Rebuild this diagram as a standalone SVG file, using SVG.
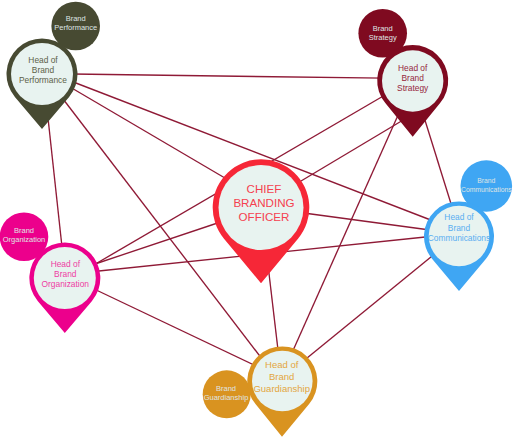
<svg xmlns="http://www.w3.org/2000/svg" width="514" height="437" viewBox="0 0 514 437">
<style>
text{font-family:"Liberation Sans",Arial,sans-serif;text-anchor:middle;font-size:8.4px}
.s{font-size:7.5px;fill:#dfe5e5}
.i{fill:#e8f3f0}
.c{font-size:11.6px}
.g{font-size:9.5px}
#connectors line{stroke:#8f1a36;stroke-width:1.35;fill:none}
</style>
<rect width="514" height="437" fill="#fff"/>
<g id="connectors">
<line x1="72" y1="74" x2="384" y2="78.2"/>
<line x1="72" y1="81.5" x2="432" y2="220.5"/>
<line x1="70" y1="87" x2="230" y2="181"/>
<line x1="60" y1="95" x2="264" y2="361.5"/>
<line x1="48" y1="118" x2="62" y2="247"/>
<line x1="385" y1="95" x2="92" y2="266"/>
<line x1="404" y1="119.5" x2="296" y2="184"/>
<line x1="424" y1="117" x2="452" y2="207"/>
<line x1="399" y1="113" x2="291" y2="355"/>
<line x1="92" y1="265" x2="225" y2="220.5"/>
<line x1="94" y1="271.5" x2="430" y2="236.5"/>
<line x1="92" y1="288" x2="256" y2="366"/>
<line x1="300" y1="212.5" x2="430" y2="230"/>
<line x1="268" y1="265" x2="278" y2="350"/>
<line x1="434" y1="254.5" x2="304" y2="360.5"/>
</g>
<g id="brand-performance">
<circle cx="75.7" cy="26" r="24.3" fill="#474a32"/>
<text class="s" x="75.7" y="21.3">Brand</text><text class="s" x="75.7" y="30">Performance</text>
</g>
<g id="head-performance">
<path d="M14.9 96.9A35.5 35.5 0 1 1 69.1 96.9L42 129Z" fill="#474a32"/>
<circle class="i" cx="42" cy="74" r="31"/>
<g fill="#5c5f48"><text x="43" y="62.7">Head of</text><text x="43" y="72.7">Brand</text><text x="43" y="82.7">Performance</text></g>
</g>
<g id="brand-strategy">
<circle cx="382.7" cy="33.3" r="24.3" fill="#7f0a20"/>
<text class="s" x="382.7" y="31.3">Brand</text><text class="s" x="382.7" y="40.3">Strategy</text>
</g>
<g id="head-strategy">
<path d="M385.3 103.1A35.5 35.5 0 1 1 440.1 103.1L412.7 136.7Z" fill="#7f0a20"/>
<circle class="i" cx="412.7" cy="81" r="30.7"/>
<g fill="#96263c"><text x="412.7" y="71">Head of</text><text x="412.7" y="81.3">Brand</text><text x="412.7" y="91">Strategy</text></g>
</g>
<g id="chief-branding-officer">
<path d="M223.8 238.4A48.3 48.3 0 1 1 298.2 238.4L261 283.3Z" fill="#f62737"/>
<circle class="i" cx="261" cy="207.6" r="42.5"/>
<g fill="#f5414f"><text class="c" x="264" y="193.3">CHIEF</text><text class="c" x="264" y="207.3">BRANDING</text><text class="c" x="264" y="221.3">OFFICER</text></g>
</g>
<g id="brand-communications">
<circle cx="486.3" cy="186" r="25.8" fill="#3fa6f3"/>
<text class="s" style="font-size:6.8px" x="486.3" y="183">Brand</text><text class="s" style="font-size:6.8px" x="486.3" y="191.7">Communications</text>
</g>
<g id="head-communications">
<path d="M432.2 258.9A35 35 0 1 1 485.8 258.9L459 291Z" fill="#3fa6f3"/>
<circle class="i" cx="459" cy="236" r="30.3"/>
<g fill="#58aef0"><text x="459" y="220.3">Head of</text><text x="459" y="230.7">Brand</text><text x="459" y="240.7">Communications</text></g>
</g>
<g id="brand-organization">
<circle cx="24" cy="236.7" r="24.3" fill="#ec008c"/>
<text class="s" x="24" y="233.3">Brand</text><text class="s" x="24" y="242.3">Organization</text>
</g>
<g id="head-organization">
<path d="M37.7 300.9A35.5 35.5 0 1 1 92 300.9L64.8 333Z" fill="#ec008c"/>
<circle class="i" cx="64.8" cy="278" r="31"/>
<g fill="#ee3da3"><text x="65.3" y="266.7">Head of</text><text x="65.3" y="277">Brand</text><text x="65.3" y="286.7">Organization</text></g>
</g>
<g id="brand-guardianship">
<circle cx="226.7" cy="394.3" r="24" fill="#d99320"/>
<text class="s" x="226" y="391">Brand</text><text class="s" x="226" y="400">Guardianship</text>
</g>
<g id="head-guardianship">
<path d="M255.5 403.9A35 35 0 1 1 309.1 403.9L282 436.7Z" fill="#d99320"/>
<circle class="i" cx="282.3" cy="381" r="30.3"/>
<g fill="#e3a63f"><text class="g" x="281.7" y="368.3">Head of</text><text class="g" x="281.7" y="379.6">Brand</text><text class="g" x="281.7" y="391.7">Guardianship</text></g>
</g>
</svg>
